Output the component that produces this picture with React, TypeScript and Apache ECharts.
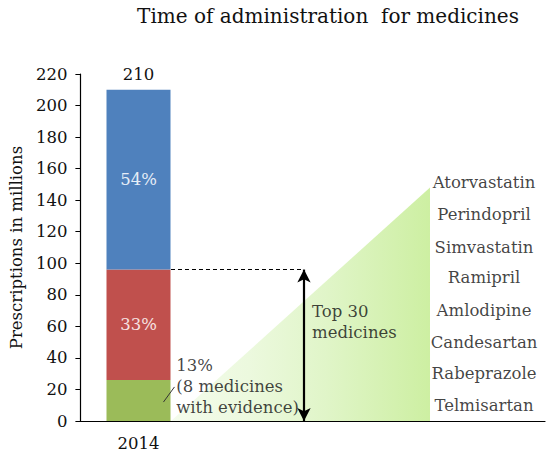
import React, { useEffect, useRef } from 'react';
import * as echarts from 'echarts';

// ---- data ----
const YEARS = ['2014'];
const SEGMENT_NAMES = ['8 medicines with evidence', 'Top 30 medicines', 'Other medicines'];
const GREEN_VALUES = [26];
const RED_VALUES = [70];
const BLUE_VALUES = [114];
const PERCENT_LABELS = ['13%', '33%', '54%'];
const Y_MIN = 0;
const Y_MAX = 220;
const Y_INTERVAL = 20;

const MEDICINES = ['Atorvastatin', 'Perindopril', 'Simvastatin', 'Ramipril', 'Amlodipine', 'Candesartan', 'Rabeprazole', 'Telmisartan'];
const MEDICINE_Y = [151, 131, 110, 91, 70, 50, 30, 10];
const MEDICINE_X = 6.95;

const WEDGE_POINTS = [[1.56, 0], [6.02, 148], [6.02, 0]];
const TOP30_LEVEL = 96;
const DASH_FROM_X = 1.56;
const ARROW_X = 3.85;
const LEADER_POINTS = [[1.43, 12], [1.62, 21.6]];

const TOP30_TEXT = ['Top 30', 'medicines'];
const TOP30_POS = [3.99, 62.7];
const EVIDENCE_TEXT = ['13%', '(8 medicines', 'with evidence)'];
const EVIDENCE_POS = [1.65, 21.6];

const TITLE = 'Time of administration  for medicines';
const Y_NAME = 'Prescriptions in millions';

const FONT = 'DejaVu Serif';
const TEXT_COLOR = '#111';
const FS = 16.5;

export default function App() {
  const ref = useRef<HTMLDivElement>(null);

  useEffect(() => {
    if (!ref.current) return;
    const chart = echarts.init(ref.current, undefined, { renderer: 'svg' });
    const total = GREEN_VALUES[0] + RED_VALUES[0] + BLUE_VALUES[0];

    const option: any = {
      animation: false,
      textStyle: { fontFamily: FONT },
      graphic: [
        {
          type: 'text',
          x: 328,
          y: 16,
          style: {
            text: TITLE,
            fontFamily: FONT,
            fontSize: 20,
            fill: TEXT_COLOR,
            textAlign: 'center',
            textVerticalAlign: 'middle',
          },
        },
      ],
      grid: [
        { left: 80, right: 5, top: 74, bottom: 34, containLabel: false },
        { left: 80, width: 117, top: 74, bottom: 34, containLabel: false },
      ],
      xAxis: [
        {
          type: 'value',
          gridIndex: 0,
          min: 0,
          max: 8,
          interval: 1,
          axisLine: { show: true, lineStyle: { color: '#000', width: 1.2 } },
          axisTick: { show: false },
          splitLine: { show: false },
          axisLabel: { show: false },
        },
        {
          type: 'category',
          gridIndex: 1,
          data: YEARS,
          axisLine: { show: false },
          axisTick: { show: false },
          splitLine: { show: false },
          axisLabel: { fontFamily: FONT, fontSize: FS, color: TEXT_COLOR, margin: 14 },
        },
      ],
      yAxis: [
        {
          type: 'value',
          gridIndex: 0,
          min: Y_MIN,
          max: Y_MAX,
          interval: Y_INTERVAL,
          name: Y_NAME,
          nameLocation: 'middle',
          nameGap: 55,
          nameTextStyle: { fontFamily: FONT, fontSize: FS, color: TEXT_COLOR },
          axisLine: { show: true, lineStyle: { color: '#000', width: 1.2 } },
          axisTick: { show: true, length: 5, inside: false, lineStyle: { color: '#000' } },
          splitLine: { show: false },
          axisLabel: { fontFamily: FONT, fontSize: FS, color: TEXT_COLOR, margin: 13 },
        },
        {
          type: 'value',
          gridIndex: 1,
          min: Y_MIN,
          max: Y_MAX,
          interval: Y_INTERVAL,
          show: false,
        },
      ],
      series: [
        {
          name: 'wedge',
          type: 'line',
          xAxisIndex: 0,
          yAxisIndex: 0,
          data: WEDGE_POINTS,
          symbol: 'none',
          silent: true,
          z: 1,
          lineStyle: { width: 0, opacity: 0 },
          areaStyle: {
            opacity: 1,
            color: new echarts.graphic.LinearGradient(0, 0, 1, 0, [
              { offset: 0, color: '#f4fcec' },
              { offset: 0.3, color: '#ecf9de' },
              { offset: 0.6, color: '#e0f5c8' },
              { offset: 1, color: '#cdefa2' },
            ]),
          },
          markLine: {
            silent: true,
            symbol: ['none', 'none'],
            label: { show: false },
            emphasis: { disabled: true },
            data: [
              [
                { coord: [DASH_FROM_X, TOP30_LEVEL], lineStyle: { type: [4, 3], color: '#000', width: 1 } },
                { coord: [ARROW_X, TOP30_LEVEL] },
              ],
              [
                { coord: [ARROW_X, 0], symbol: 'arrow', symbolSize: [10, 13], lineStyle: { type: 'solid', color: '#000', width: 2.2 } },
                { coord: [ARROW_X, TOP30_LEVEL], symbol: 'arrow', symbolSize: [10, 13] },
              ],
            ],
          },
        },
        {
          name: SEGMENT_NAMES[0],
          type: 'bar',
          xAxisIndex: 1,
          yAxisIndex: 1,
          stack: 'total',
          barWidth: 64,
          z: 3,
          data: GREEN_VALUES,
          itemStyle: { color: '#9bbb59' },
        },
        {
          name: SEGMENT_NAMES[1],
          type: 'bar',
          xAxisIndex: 1,
          yAxisIndex: 1,
          stack: 'total',
          barWidth: 64,
          z: 3,
          data: RED_VALUES,
          itemStyle: { color: '#c0504d' },
          label: {
            show: true,
            position: 'inside',
            formatter: PERCENT_LABELS[1],
            fontFamily: FONT,
            fontSize: FS,
            color: '#f7e2e1',
          },
        },
        {
          name: SEGMENT_NAMES[2],
          type: 'bar',
          xAxisIndex: 1,
          yAxisIndex: 1,
          stack: 'total',
          barWidth: 64,
          z: 3,
          data: BLUE_VALUES,
          itemStyle: { color: '#4f81bd' },
          label: {
            show: true,
            position: 'inside',
            formatter: PERCENT_LABELS[2],
            fontFamily: FONT,
            fontSize: FS,
            color: '#e6edf7',
          },
        },
        {
          name: 'total',
          type: 'bar',
          xAxisIndex: 1,
          yAxisIndex: 1,
          stack: 'total',
          barWidth: 64,
          z: 3,
          silent: true,
          data: [0],
          itemStyle: { color: 'transparent' },
          label: {
            show: true,
            position: 'top',
            distance: 7,
            formatter: String(total),
            fontFamily: FONT,
            fontSize: FS,
            color: TEXT_COLOR,
          },
        },
        {
          name: 'leader',
          type: 'line',
          xAxisIndex: 0,
          yAxisIndex: 0,
          data: LEADER_POINTS,
          symbol: 'none',
          silent: true,
          z: 5,
          lineStyle: { color: '#333', width: 1 },
        },
        {
          name: 'medicines',
          type: 'scatter',
          xAxisIndex: 0,
          yAxisIndex: 0,
          symbolSize: 0,
          silent: true,
          z: 5,
          data: MEDICINES.map((m, i) => ({ name: m, value: [MEDICINE_X, MEDICINE_Y[i]] })),
          label: {
            show: true,
            position: 'inside',
            formatter: '{b}',
            fontFamily: FONT,
            fontSize: FS,
            color: TEXT_COLOR,
          },
        },
        {
          name: 'notes',
          type: 'scatter',
          xAxisIndex: 0,
          yAxisIndex: 0,
          symbolSize: 0,
          silent: true,
          z: 5,
          data: [
            { name: TOP30_TEXT.join('\n'), value: TOP30_POS },
            { name: EVIDENCE_TEXT.join('\n'), value: EVIDENCE_POS },
          ],
          label: {
            show: true,
            position: 'right',
            distance: 0,
            align: 'left',
            formatter: '{b}',
            fontFamily: FONT,
            fontSize: FS,
            lineHeight: 21,
            color: TEXT_COLOR,
          },
        },
      ],
    };

    chart.setOption(option);
    return () => chart.dispose();
  }, []);

  return (
    <div
      ref={ref}
      style={{ position: 'absolute', left: 0, top: 0, width: 550, height: 455, background: '#fff' }}
    />
  );
}
